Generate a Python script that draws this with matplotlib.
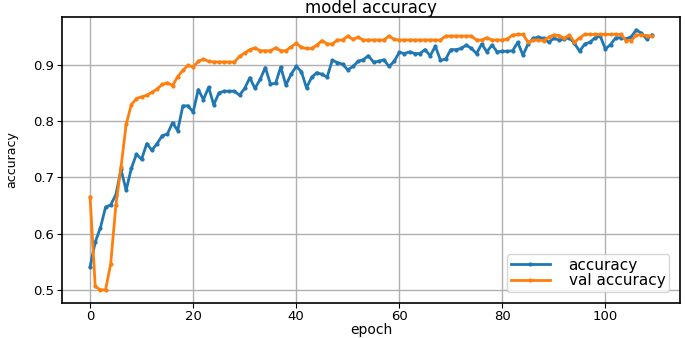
import matplotlib
matplotlib.use("Agg")
import numpy as np
import matplotlib.pyplot as plt

# training accuracy per epoch
accuracy = [
    0.541, 0.585, 0.610, 0.647, 0.651, 0.669, 0.714, 0.677, 0.716, 0.741,
    0.732, 0.760, 0.748, 0.760, 0.774, 0.777, 0.797, 0.783, 0.827, 0.827,
    0.816, 0.856, 0.838, 0.860, 0.829, 0.850, 0.853, 0.853, 0.853, 0.846,
    0.858, 0.877, 0.858, 0.874, 0.895, 0.866, 0.867, 0.896, 0.864, 0.883,
    0.897, 0.888, 0.859, 0.878, 0.886, 0.883, 0.878, 0.908, 0.904, 0.901,
    0.891, 0.897, 0.906, 0.909, 0.916, 0.905, 0.906, 0.909, 0.897, 0.906,
    0.922, 0.920, 0.923, 0.920, 0.920, 0.927, 0.916, 0.933, 0.908, 0.910,
    0.927, 0.927, 0.929, 0.935, 0.929, 0.920, 0.937, 0.923, 0.935, 0.923,
    0.924, 0.924, 0.925, 0.940, 0.917, 0.937, 0.947, 0.949, 0.947, 0.940,
    0.947, 0.944, 0.946, 0.948, 0.938, 0.924, 0.937, 0.940, 0.948, 0.951,
    0.928, 0.936, 0.948, 0.948, 0.946, 0.950, 0.962, 0.956, 0.946, 0.953,
]

# validation accuracy per epoch
val_accuracy = [
    0.665, 0.506, 0.500, 0.500, 0.546, 0.650, 0.718, 0.794, 0.829, 0.840,
    0.843, 0.846, 0.851, 0.857, 0.865, 0.868, 0.863, 0.879, 0.890, 0.899,
    0.896, 0.906, 0.910, 0.906, 0.905, 0.905, 0.905, 0.905, 0.905, 0.915,
    0.921, 0.927, 0.930, 0.925, 0.925, 0.925, 0.930, 0.925, 0.925, 0.932,
    0.938, 0.931, 0.929, 0.929, 0.935, 0.943, 0.937, 0.937, 0.944, 0.944,
    0.951, 0.945, 0.949, 0.944, 0.944, 0.944, 0.944, 0.944, 0.951, 0.945,
    0.944, 0.944, 0.944, 0.944, 0.944, 0.944, 0.944, 0.944, 0.944, 0.951,
    0.951, 0.951, 0.951, 0.951, 0.951, 0.944, 0.944, 0.948, 0.944, 0.944,
    0.944, 0.946, 0.953, 0.954, 0.954, 0.940, 0.944, 0.944, 0.943, 0.949,
    0.953, 0.952, 0.947, 0.953, 0.940, 0.948, 0.954, 0.954, 0.954, 0.954,
    0.954, 0.954, 0.954, 0.954, 0.943, 0.943, 0.953, 0.953, 0.952, 0.951,
]

epochs = np.arange(len(accuracy))

fig = plt.figure(figsize=(6.85, 3.38), dpi=100)
ax = fig.add_axes([0.0905, 0.104, 0.902, 0.846])

ax.plot(epochs, accuracy, color="#1f77b4", marker=".", markersize=4, linewidth=2, label="accuracy")
ax.plot(epochs, val_accuracy, color="#ff7f0e", marker=".", markersize=4, linewidth=2, label="val accuracy")

ax.set_yticks([0.5, 0.6, 0.7, 0.8, 0.9])
ax.set_xticks([0, 20, 40, 60, 80, 100])
ax.tick_params(labelsize=9.5, pad=2)
ax.grid(True, color="#b0b0b0", linewidth=1)

ax.set_title("model accuracy", fontsize=12, pad=3)
ax.set_xlabel("epoch", fontsize=10, labelpad=0)
ax.set_ylabel("accuracy", fontsize=9, labelpad=11, family=["Liberation Sans Narrow", "DejaVu Sans"])

ax.legend(loc="lower right", fontsize=11, handlelength=2.6, borderaxespad=0.7,
          labelspacing=0.05, borderpad=0.25, handletextpad=1.2)

for s in ax.spines.values():
    s.set_linewidth(1.2)

fig.savefig("out.png", dpi=100)
